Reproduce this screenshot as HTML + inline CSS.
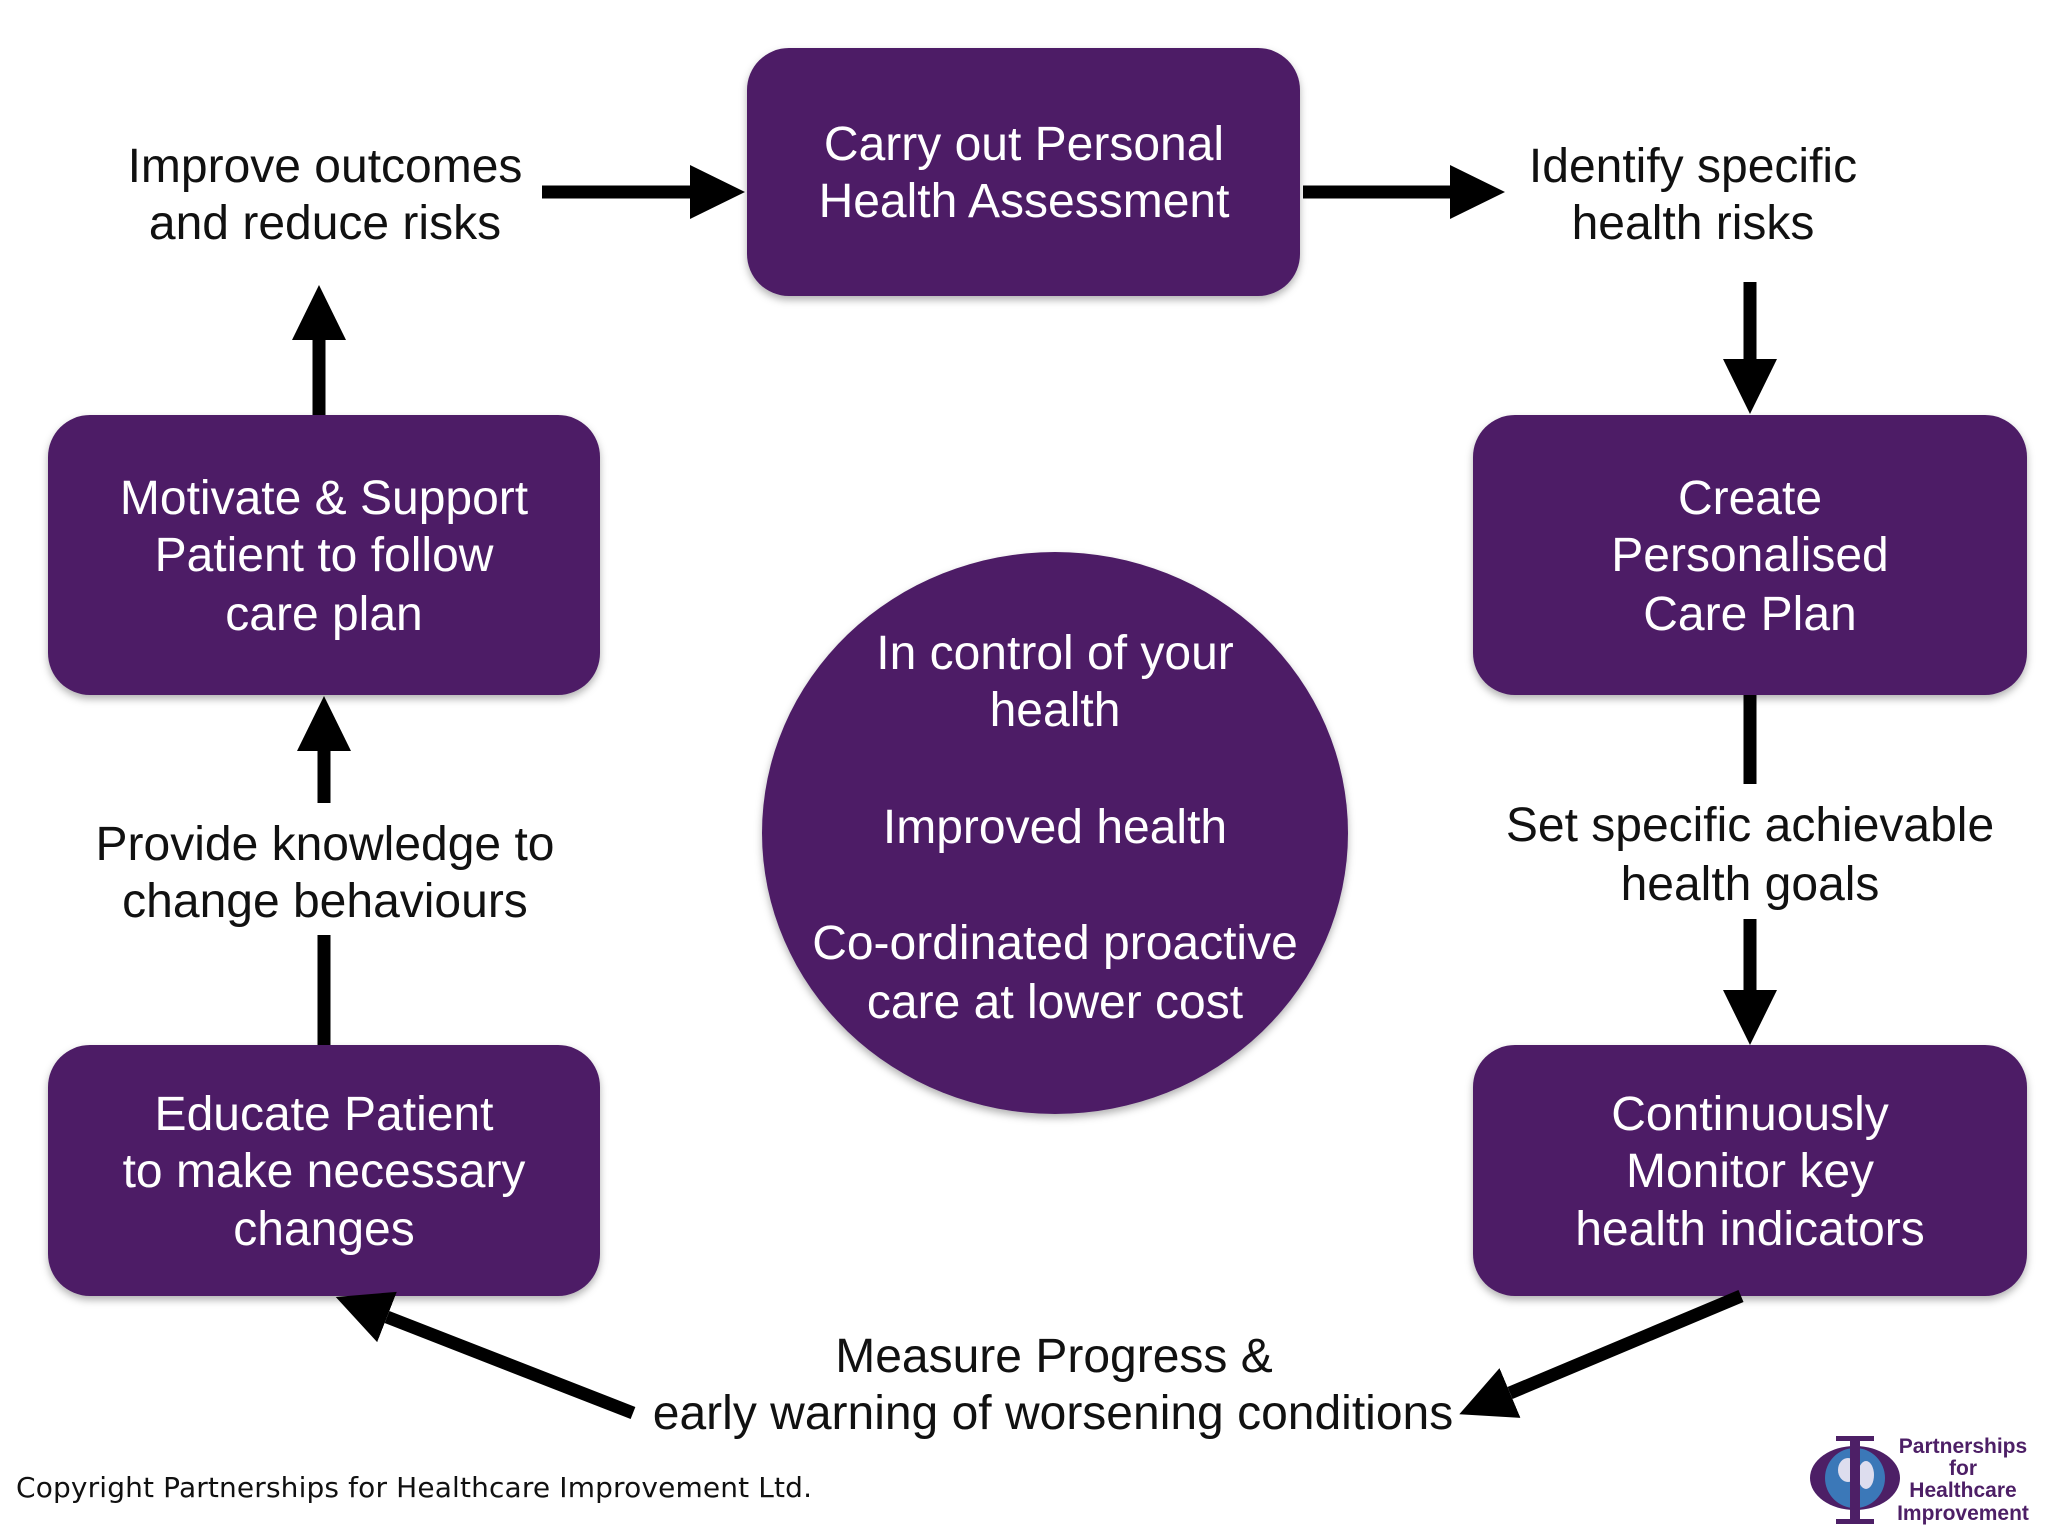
<!DOCTYPE html>
<html><head><meta charset="utf-8"><style>
html,body{margin:0;padding:0;background:#fff;}
svg{display:block;}
text{font-family:"Liberation Sans",sans-serif;}
.w{fill:#fff;font-size:48px;text-anchor:middle;}
.b{fill:#111;font-size:48px;text-anchor:middle;}
</style></head><body>
<svg width="2048" height="1536" viewBox="0 0 2048 1536" xmlns="http://www.w3.org/2000/svg">
<defs>
<filter id="sh" x="-10%" y="-10%" width="120%" height="130%"><feDropShadow dx="0" dy="4" stdDeviation="4" flood-color="#000" flood-opacity="0.3"/></filter>
<marker id="ah" markerUnits="userSpaceOnUse" markerWidth="56" markerHeight="56" refX="0" refY="27" orient="auto"><path d="M0,0 L55,27 L0,54 z" fill="#000"/></marker>
</defs>
<g fill="#4d1f66" filter="url(#sh)">
<rect x="747" y="48" width="553" height="248" rx="42"/>
<rect x="1473" y="415" width="554" height="280" rx="42"/>
<rect x="1473" y="1045" width="554" height="251" rx="42"/>
<rect x="48" y="415" width="552" height="280" rx="42"/>
<rect x="48" y="1045" width="552" height="251" rx="42"/>
<ellipse cx="1055" cy="833" rx="293" ry="281"/>
</g>
<g stroke="#000" stroke-width="13" fill="none">
<line x1="542" y1="192" x2="690" y2="192" marker-end="url(#ah)"/>
<line x1="1303" y1="192" x2="1450" y2="192" marker-end="url(#ah)"/>
<line x1="1750" y1="282" x2="1750" y2="359" marker-end="url(#ah)"/>
<line x1="1750" y1="695" x2="1750" y2="784"/>
<line x1="1750" y1="919" x2="1750" y2="990" marker-end="url(#ah)"/>
<line x1="1741" y1="1296" x2="1510" y2="1393" marker-end="url(#ah)"/>
<line x1="633" y1="1413" x2="387" y2="1317" marker-end="url(#ah)"/>
<line x1="324" y1="1045" x2="324" y2="935"/>
<line x1="324" y1="803" x2="324" y2="751" marker-end="url(#ah)"/>
<line x1="319" y1="415" x2="319" y2="340" marker-end="url(#ah)"/>
</g>
<text class="w" x="1024" y="160">Carry out Personal</text>
<text class="w" x="1024" y="217">Health Assessment</text>
<text class="b" x="325" y="182">Improve outcomes</text>
<text class="b" x="325" y="239">and reduce risks</text>
<text class="b" x="1693" y="182">Identify specific</text>
<text class="b" x="1693" y="239">health risks</text>
<text class="w" x="1750" y="514">Create</text>
<text class="w" x="1750" y="571">Personalised</text>
<text class="w" x="1750" y="630">Care Plan</text>
<text class="b" x="1750" y="841">Set specific achievable</text>
<text class="b" x="1750" y="900">health goals</text>
<text class="w" x="1750" y="1130">Continuously</text>
<text class="w" x="1750" y="1187">Monitor key</text>
<text class="w" x="1750" y="1245">health indicators</text>
<text class="b" x="1054" y="1372">Measure Progress &amp;</text>
<text class="b" x="1053" y="1429">early warning of worsening conditions</text>
<text class="w" x="324" y="1130">Educate Patient</text>
<text class="w" x="324" y="1187">to make necessary</text>
<text class="w" x="324" y="1245">changes</text>
<text class="b" x="325" y="860">Provide knowledge to</text>
<text class="b" x="325" y="917">change behaviours</text>
<text class="w" x="324" y="514">Motivate &amp; Support</text>
<text class="w" x="324" y="571">Patient to follow</text>
<text class="w" x="324" y="630">care plan</text>
<text class="w" x="1055" y="669">In control of your</text>
<text class="w" x="1055" y="726">health</text>
<text class="w" x="1055" y="843">Improved health</text>
<text class="w" x="1055" y="959">Co-ordinated proactive</text>
<text class="w" x="1055" y="1018">care at lower cost</text>
<text x="16" y="1497" textLength="796" style="font-family:'DejaVu Sans',sans-serif;font-size:28px;fill:#111;">Copyright Partnerships for Healthcare Improvement Ltd.</text>
<g>
<ellipse cx="1855" cy="1478" rx="45" ry="32" fill="#4d1f66"/>
<ellipse cx="1855" cy="1478" rx="30" ry="30" fill="#3b78b8"/>
<ellipse cx="1848" cy="1470" rx="10" ry="12" fill="#dde"/>
<ellipse cx="1866" cy="1475" rx="8" ry="14" fill="#dde"/>
<rect x="1850" y="1438" width="10" height="84" fill="#4d1f66"/>
<rect x="1836" y="1436" width="38" height="5" fill="#4d1f66"/>
<rect x="1836" y="1519" width="38" height="5" fill="#4d1f66"/>
</g>
<g style="font-family:'DejaVu Sans',sans-serif;font-weight:bold;font-size:21px;fill:#4d1f66;" text-anchor="middle">
<text x="1963" y="1453">Partnerships</text>
<text x="1963" y="1475">for</text>
<text x="1963" y="1497">Healthcare</text>
<text x="1963" y="1520">Improvement</text>
</g>
</svg>
</body></html>
